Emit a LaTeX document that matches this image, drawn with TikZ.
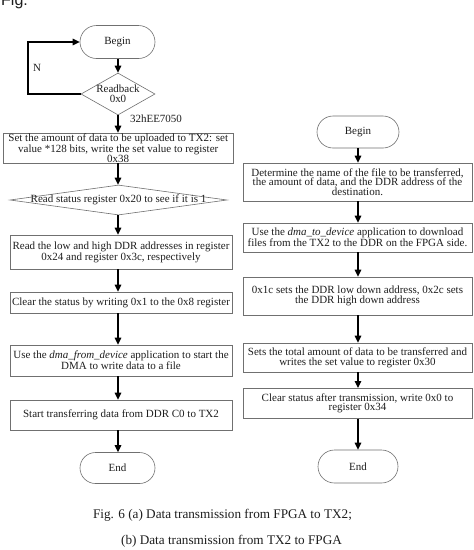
\documentclass[tikz,border=0pt]{standalone}
\usepackage{fontspec}
\setmainfont{Liberation Serif}
\newfontfamily\figsans{Liberation Sans}
\usetikzlibrary{shapes.geometric,shapes.misc,arrows.meta}
\definecolor{edgegray}{HTML}{707070}
\definecolor{inkc}{HTML}{1E1E1E}
\begin{document}
\begin{tikzpicture}[x=1pt,y=-1pt,
  every node/.style={text=inkc},
  boxtxt/.style={font=\fontsize{11}{9.8}\selectfont, align=center},
  box/.style={boxtxt, draw=edgegray, line width=0.6pt, rectangle, inner sep=0pt},
  term/.style={boxtxt, draw=edgegray, line width=0.6pt, rounded rectangle, inner sep=0pt},
  dia/.style={draw=edgegray, line width=0.6pt, diamond, inner sep=0pt},
  arr/.style={draw=black, line width=1.1pt, -{Triangle[length=7pt,width=6.5pt]}}]
\useasboundingbox (0,0) rectangle (474,550);
\fill[white] (0,0) rectangle (474,550);

% cut-off heading
\node[font=\figsans\fontsize{16}{16}\selectfont, anchor=base west, inner sep=0pt] (figtop) at (1,5) {Fig.};

% ---------- left chart ----------
\node[term, minimum width=75pt, minimum height=33pt] (lbegin) at (117.5,42) {Begin};
\node[dia, minimum width=74pt, minimum height=42pt] (d1) at (118,94) {};
\node[boxtxt, inner sep=0pt] (d1t) at (d1) {Readback\\0x0};
\node[boxtxt, inner sep=0pt] (hexlbl) at (156,119) {32hEE7050};
\node[boxtxt, inner sep=0pt] (nlbl) at (37,68) {N};
\node[box, minimum width=229.5pt, minimum height=30pt] (b1) at (118.25,148)
  {Set the amount of data to be uploaded to TX2: set\\value *128 bits, write the set value to register\\0x38};
\node[dia, minimum width=217pt, minimum height=30pt] (d2) at (118.5,200) {};
\node[boxtxt, inner sep=0pt] (d2t) at (d2) {Read status register 0x20 to see if it is 1};
\node[box, minimum width=222pt, minimum height=34pt] (b2) at (121,252)
  {Read the low and high DDR addresses in register\\0x24 and register 0x3c, respectively};
\node[box, minimum width=222pt, minimum height=21pt] (b3) at (121,302.5)
  {Clear the status by writing 0x1 to the 0x8 register};
\node[box, minimum width=222pt, minimum height=31pt] (b4) at (121,360.5)
  {Use the \textit{dma\_from\_device} application to start the\\DMA to write data to a file};
\node[box, minimum width=222pt, minimum height=30pt] (b5) at (121,415)
  {Start transferring data from DDR C0 to TX2};
\node[term, minimum width=75pt, minimum height=31pt] (lend) at (117.5,468) {End};

\coordinate (loopc) at (28,94);
\draw[arr] (d1.west) -- (loopc) |- (lbegin.west);
\draw[arr] (lbegin.south -| d1.north) -- (d1.north);
\draw[arr] (d1.south) -- (d1.south |- b1.north);
\draw[arr] (b1.south -| d1.south) -- (d2.north -| d1.south);
\draw[arr] (d2.south -| d1.south) -- (b2.north -| d1.south);
\draw[arr] (b2.south -| d1.south) -- (b3.north -| d1.south);
\draw[arr] (b3.south -| d1.south) -- (b4.north -| d1.south);
\draw[arr] (b4.south -| d1.south) -- (b5.north -| d1.south);
\draw[arr] (b5.south -| d1.south) -- (lend.north -| d1.south);

% ---------- right chart ----------
\node[term, minimum width=82pt, minimum height=32pt] (rbegin) at (358,132) {Begin};
\node[box, minimum width=229pt, minimum height=38pt] (r1) at (357.5,182)
  {Determine the name of the file to be transferred,\\the amount of data, and the DDR address of the\\destination.};
\node[box, minimum width=229pt, minimum height=29pt] (r2) at (357.5,237.5)
  {Use the \textit{dma\_to\_device} application to download\\files from the TX2 to the DDR on the FPGA side.};
\node[box, minimum width=229pt, minimum height=38pt] (r3) at (357.5,296)
  {0x1c sets the DDR low down address, 0x2c sets\\the DDR high down address};
\node[box, minimum width=229pt, minimum height=29pt] (r4) at (357.5,357.5)
  {Sets the total amount of data to be transferred and\\writes the set value to register 0x30};
\node[box, minimum width=229pt, minimum height=30pt] (r5) at (357.5,403.3)
  {Clear status after transmission, write 0x0 to\\register 0x34};
\node[term, minimum width=80pt, minimum height=33pt] (rend) at (358,466.5) {End};

\draw[arr] (rbegin.south) -- (rbegin.south |- r1.north);
\draw[arr] (r1.south -| rbegin.south) -- (r2.north -| rbegin.south);
\draw[arr] (r2.south -| rbegin.south) -- (r3.north -| rbegin.south);
\draw[arr] (r3.south -| rbegin.south) -- (r4.north -| rbegin.south);
\draw[arr] (r4.south -| rbegin.south) -- (r5.north -| rbegin.south);
\draw[arr] (r5.south -| rbegin.south) -- (rend.north);

% ---------- caption ----------
\node[font=\fontsize{13.2}{13}\selectfont, inner sep=0pt] (cap1) at (222.5,515)
  {Fig. 6 (a) Data transmission from FPGA to TX2;};
\node[font=\fontsize{13.2}{13}\selectfont, inner sep=0pt] (cap2) at (231.5,541.5)
  {(b) Data transmission from TX2 to FPGA};
\end{tikzpicture}
\end{document}
